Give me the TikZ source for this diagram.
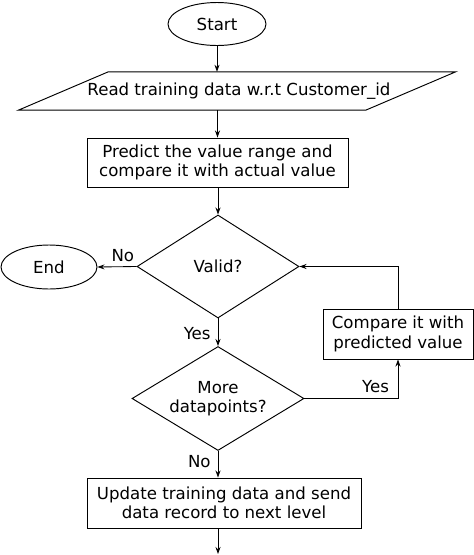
\documentclass[tikz,border=0pt]{standalone}
\usepackage{fontspec}
\setmainfont{DejaVu Sans}
\usetikzlibrary{shapes.geometric,arrows.meta}
\begin{document}
\begin{tikzpicture}[x=1pt,y=-1pt,
    every node/.style={font=\fontsize{16.6}{19.5}\selectfont},
    box/.style={draw,line width=0.95pt,align=center,inner sep=0pt},
    oval/.style={draw,ellipse,line width=0.95pt,inner sep=0pt},
    choice/.style={draw,diamond,aspect=1.65,line width=0.95pt,align=center,inner sep=0pt},
    arr/.style={-{Stealth[length=7pt,width=5pt]},line width=0.85pt},
    lbl/.style={inner xsep=7pt,inner ysep=5pt}]
    \useasboundingbox (0,0) rectangle (474,555);

    % Start and input
    \node[oval,minimum width=98,minimum height=43] (start) at (217,24) {Start};
    \node[minimum width=347,minimum height=38,inner sep=0pt] (read) at (239,91) {Read training data w.r.t Customer\_id};
    \draw[line width=0.95pt] ([xshift=43pt]read.north west) -- ([xshift=43pt]read.north east)
        -- ([xshift=-47pt]read.south east) -- ([xshift=-47pt]read.south west) -- cycle;
    \draw[arr] (start) -- (start.south |- read.north);

    % Prediction
    \node[box,minimum width=261,minimum height=49] (predict) at (217.5,162.5) {Predict the value range and\\compare it with actual value};
    \draw[arr] (predict.north |- read.south) -- (predict.north);

    % Decisions
    \node[choice,minimum width=162,minimum height=103] (valid) at (218,266.5) {Valid?};
    \node[choice,minimum width=172,minimum height=104] (more) at (218,398.5) {More\\datapoints?};
    \node[oval,minimum width=96,minimum height=44] (end) at (49,267) {End};
    \node[box,minimum width=150,minimum height=50] (compare) at (398,334) {Compare it with\\predicted value};
    \draw[arr] (valid.north |- predict.south) -- (valid.north);
    \draw[arr] (valid.west) -- node[lbl,above,pos=0.35] (no1) {No} (end.east);
    \draw[arr] (valid) -- node[lbl,left,pos=0.55] (yes1) {Yes} (more);
    \draw[arr] (more.east) -| node[lbl,above,pos=0.38] (yes2) {Yes} (compare.south);
    \draw[arr] (compare.north) |- (valid.east);

    % Update
    \node[box,minimum width=274,minimum height=50] (update) at (224,503) {Update training data and send\\data record to next level};
    \coordinate (exit) at (218,554);
    \draw[arr] (more.south) -- node[lbl,left,pos=0.4] (no2) {No} (more.south |- update.north);
    \draw[arr] (exit |- update.south) -- (exit);
\end{tikzpicture}
\end{document}
